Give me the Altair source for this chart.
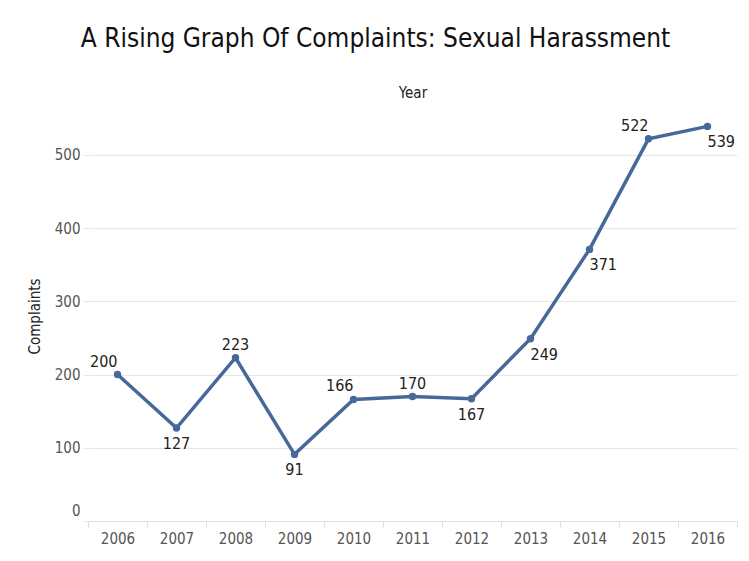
import altair as alt
import pandas as pd

years = ["2006", "2007", "2008", "2009", "2010", "2011", "2012", "2013", "2014", "2015", "2016"]
complaints = [200, 127, 223, 91, 166, 170, 167, 249, 371, 522, 539]
label_side = ["above", "below", "above", "below", "above", "above", "below", "below", "below", "above", "below"]
label_align = ["right", "center", "center", "center", "right", "center", "center", "left", "left", "right", "left"]

df = pd.DataFrame({"Year": years, "Complaints": complaints, "side": label_side, "al": label_align})

FONT = "Liberation Sans Narrow, DejaVu Sans Condensed, Open Sans"
LINE_COLOR = "#46699a"
W, H = 649, 410

x = alt.X(
    "Year:O",
    bandPosition=0.5,
    scale=alt.Scale(type="band", paddingInner=0, paddingOuter=0),
    axis=alt.Axis(
        title="Year", titleY=-H - 26, titleFontSize=15, titleFontWeight="normal",
        titleColor="#222", titleFont=FONT,
        labelAngle=0, labelFontSize=15, labelColor="#555", labelFont=FONT, labelPadding=4,
        tickBand="extent", tickSize=6, tickColor="#e0e0e0", domainColor="#e0e0e0",
        grid=False,
    ),
)
y = alt.Y(
    "Complaints:Q",
    scale=alt.Scale(domain=[0, 560], nice=False, zero=True),
    axis=alt.Axis(
        values=[0, 100, 200, 300, 400, 500], title="Complaints", titleFontSize=15,
        titleFontWeight="normal", titleColor="#222", titleFont=FONT, titlePadding=12,
        labelFontSize=15, labelColor="#555", labelFont=FONT, labelFlush=True,
        labelFlushOffset=-3, labelPadding=3,
        domain=False, tickSize=5, tickColor="#e6e6e6", gridColor="#e6e6e6",
    ),
)

base = alt.Chart(df).encode(x=x, y=y)
line = base.mark_line(color=LINE_COLOR, strokeWidth=3.5)
pts = base.mark_point(color=LINE_COLOR, filled=True, size=55, opacity=1)

layers = [line, pts]
for side in ["above", "below"]:
    for al in ["left", "center", "right"]:
        layers.append(
            base.transform_filter(
                (alt.datum.side == side) & (alt.datum.al == al)
            ).mark_text(
                align=al,
                baseline="bottom" if side == "above" else "top",
                dy=-5 if side == "above" else 8,
                fontSize=16, font=FONT, color="#222",
            ).encode(text="Complaints:Q")
        )

chart = alt.layer(*layers).properties(
    width=W, height=H,
    title=alt.TitleParams(
        "A Rising Graph Of Complaints: Sexual Harassment",
        fontSize=26, font=FONT, fontWeight="normal", color="#111",
        offset=33, dx=-37, anchor="middle",
    ),
    autosize=alt.AutoSizeParams(type="none"),
    padding={"left": 88, "top": 111, "right": 12, "bottom": 40},
).configure_view(stroke=None)

chart.save("out.html", embed_options={"renderer": "svg", "actions": False})
